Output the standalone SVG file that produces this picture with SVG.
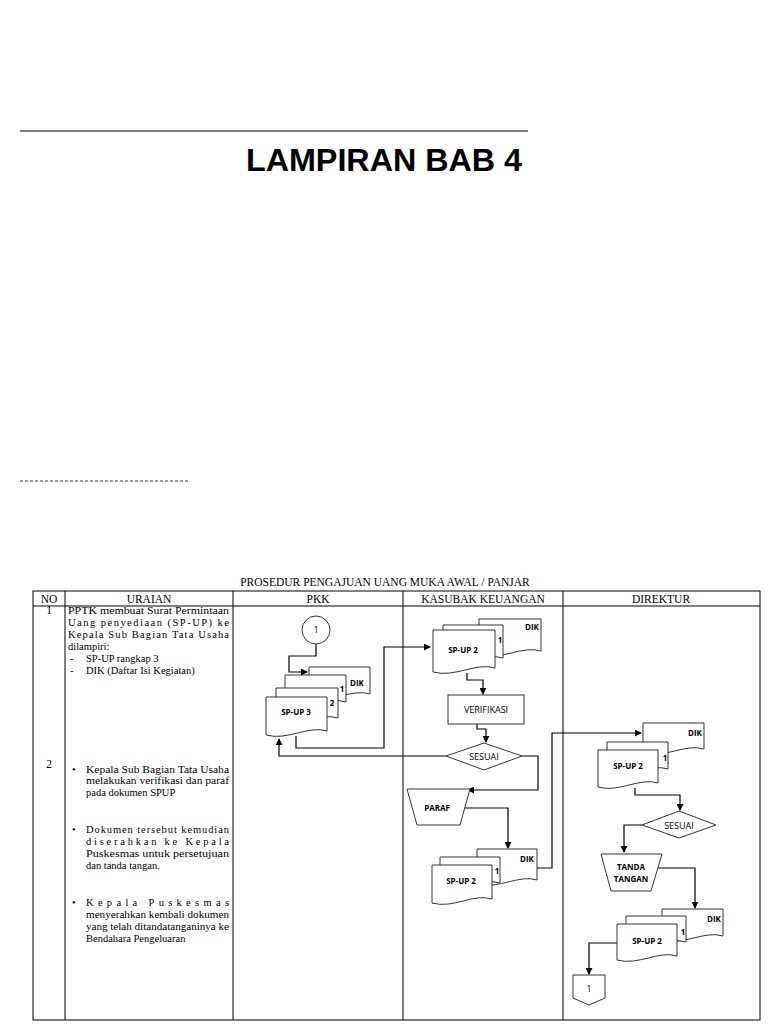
<svg xmlns="http://www.w3.org/2000/svg" width="768" height="1024" viewBox="0 0 768 1024">
<defs>
<marker id="ar" viewBox="0 0 8 8" refX="7" refY="4" markerWidth="7" markerHeight="7" orient="auto" markerUnits="userSpaceOnUse"><path d="M0 0L8 4L0 8Z" fill="#000"/></marker>
</defs>
<style>
.ser{font-family:"Liberation Serif",serif;font-size:10.5px;fill:#000}
.hd{font-family:"Liberation Serif",serif;font-size:11.5px;fill:#000;text-anchor:middle}
.lbl{font-family:"Open Sans","DejaVu Sans",sans-serif;font-size:8px;font-weight:bold;fill:#000;text-anchor:middle}
.lbn{font-family:"Open Sans","DejaVu Sans",sans-serif;font-size:9px;fill:#000;text-anchor:middle}
.shp{fill:#fff;stroke:#333;stroke-width:1}
.tb{fill:none;stroke:#000;stroke-width:1}
.cn{fill:none;stroke:#000;stroke-width:1.2;marker-end:url(#ar)}
</style>
<rect width="768" height="1024" fill="#fff"/>
<line x1="20" y1="131" x2="528" y2="131" stroke="#000" stroke-width="1"/>
<text x="246" y="171" font-family="Liberation Sans,Arial,sans-serif" font-size="31" font-weight="bold" textLength="276" lengthAdjust="spacingAndGlyphs">LAMPIRAN BAB 4</text>
<line x1="20" y1="481" x2="188" y2="481" stroke="#000" stroke-width="0.8" stroke-dasharray="3,2"/>
<text x="385" y="586" class="hd">PROSEDUR PENGAJUAN UANG MUKA AWAL / PANJAR</text>
<g id="table">
<rect x="33" y="591" width="727" height="429" class="tb"/>
<line x1="33" y1="606" x2="760" y2="606" class="tb"/>
<line x1="65" y1="591" x2="65" y2="1020" class="tb"/>
<line x1="233" y1="591" x2="233" y2="1020" class="tb"/>
<line x1="403" y1="591" x2="403" y2="1020" class="tb"/>
<line x1="563" y1="591" x2="563" y2="1020" class="tb"/>
<text x="49" y="603" class="hd">NO</text>
<text x="149" y="603" class="hd">URAIAN</text>
<text x="318" y="603" class="hd">PKK</text>
<text x="483" y="603" class="hd">KASUBAK KEUANGAN</text>
<text x="661" y="603" class="hd">DIREKTUR</text>
<text x="49" y="614" class="hd">1</text>
<text x="49" y="768" class="hd">2</text>
</g>
<g id="uraian" class="ser">
<text x="68" y="614" textLength="161" lengthAdjust="spacingAndGlyphs">PPTK membuat Surat Permintaan</text>
<text x="68" y="626" textLength="161" lengthAdjust="spacing">Uang penyediaan (SP-UP) ke</text>
<text x="68" y="638" textLength="161" lengthAdjust="spacing">Kepala Sub Bagian Tata Usaha</text>
<text x="68" y="650">dilampiri:</text>
<text x="70" y="662">-</text><text x="86" y="662">SP-UP rangkap 3</text>
<text x="70" y="674">-</text><text x="86" y="674">DIK (Daftar Isi Kegiatan)</text>
<text x="72" y="773">•</text>
<text x="86" y="773" textLength="143" lengthAdjust="spacingAndGlyphs">Kepala Sub Bagian Tata Usaha</text>
<text x="86" y="784" textLength="143" lengthAdjust="spacingAndGlyphs">melakukan verifikasi dan paraf</text>
<text x="86" y="796">pada dokumen SPUP</text>
<text x="72" y="833">•</text>
<text x="86" y="833" textLength="143" lengthAdjust="spacing">Dokumen tersebut kemudian</text>
<text x="86" y="845" textLength="143" lengthAdjust="spacing">diserahkan ke Kepala</text>
<text x="86" y="857" textLength="143" lengthAdjust="spacingAndGlyphs">Puskesmas untuk persetujuan</text>
<text x="86" y="869">dan tanda tangan.</text>
<text x="72" y="906">•</text>
<text x="86" y="906" textLength="143" lengthAdjust="spacing">Kepala Puskesmas</text>
<text x="86" y="918" textLength="143" lengthAdjust="spacingAndGlyphs">menyerahkan kembali dokumen</text>
<text x="86" y="930" textLength="143" lengthAdjust="spacingAndGlyphs">yang telah ditandatanganinya ke</text>
<text x="86" y="942">Bendahara Pengeluaran</text>
</g>
<g id="connectors">
<path d="M316 644V656H289V672H307" class="cn"/>
<path d="M296 736V748H384V647H430" class="cn"/>
<path d="M467 673V680H483V694" class="cn"/>
<path d="M477 724V729H486V742" class="cn"/>
<path d="M446 756H279V739" class="cn"/>
<path d="M522 756H538V790H468" class="cn"/>
<path d="M464 808H508V848" class="cn"/>
<path d="M537 868H552V733H641" class="cn"/>
<path d="M635 788V795H680V810" class="cn"/>
<path d="M642 825H624V852" class="cn"/>
<path d="M658 868H695V908" class="cn"/>
<path d="M619 943H589V974" class="cn"/>
</g>
<g id="start">
<circle cx="316" cy="630" r="14" class="shp"/>
<text x="316" y="633" class="lbn">1</text>
</g>
<g id="pkk-docs">
<path d="M309 667H370V694C352 688 330 704 309 698Z" class="shp"/>
<text x="357" y="686" class="lbl">DIK</text>
<path d="M285 675H346V702C328 696 306 712 285 706Z" class="shp"/>
<text x="342" y="692" class="lbl">1</text>
<path d="M276 688H338V718C319 712 298 728 276 722Z" class="shp"/>
<text x="332" y="706" class="lbl">2</text>
<path d="M266 697H327V731C309 725 287 741 266 735Z" class="shp"/>
<text x="296" y="715" class="lbl">SP-UP 3</text>
</g>
<g id="kas-docs1">
<path d="M479 619H541V651C522 645 501 661 479 655Z" class="shp"/>
<text x="532" y="630" class="lbl">DIK</text>
<path d="M443 625H503V658C485 652 464 668 443 662Z" class="shp"/>
<text x="500" y="643" class="lbl">1</text>
<path d="M433 630H495V668C476 662 455 678 433 672Z" class="shp"/>
<text x="463" y="653" class="lbl">SP-UP 2</text>
</g>
<g id="verifikasi">
<rect x="448" y="695" width="76" height="29" class="shp"/>
<text x="486" y="713" class="lbn">VERIFIKASI</text>
</g>
<g id="sesuai1">
<path d="M484 743L522 756L484 770L446 756Z" class="shp"/>
<text x="484" y="760" class="lbn">SESUAI</text>
</g>
<g id="paraf">
<path d="M407 789H470L460 825H417Z" class="shp"/>
<text x="437" y="811" class="lbl">PARAF</text>
</g>
<g id="kas-docs2">
<path d="M477 849H537V880C519 874 498 890 477 884Z" class="shp"/>
<text x="527" y="862" class="lbl">DIK</text>
<path d="M440 857H500V883C482 877 461 893 440 887Z" class="shp"/>
<text x="497" y="874" class="lbl">1</text>
<path d="M432 865H492V899C474 893 453 909 432 903Z" class="shp"/>
<text x="461" y="884" class="lbl">SP-UP 2</text>
</g>
<g id="dir-docs1">
<path d="M643 723H704V749C686 743 664 759 643 753Z" class="shp"/>
<text x="695" y="736" class="lbl">DIK</text>
<path d="M607 742H668V769C650 763 628 779 607 773Z" class="shp"/>
<text x="665" y="761" class="lbl">1</text>
<path d="M598 750H658V783C640 777 619 793 598 787Z" class="shp"/>
<text x="628" y="769" class="lbl">SP-UP 2</text>
</g>
<g id="sesuai2">
<path d="M679 811L716 825L679 838L642 825Z" class="shp"/>
<text x="679" y="829" class="lbn">SESUAI</text>
</g>
<g id="tanda">
<path d="M601 854H662L651 891H611Z" class="shp"/>
<text x="631" y="870" class="lbl">TANDA</text>
<text x="631" y="882" class="lbl">TANGAN</text>
</g>
<g id="dir-docs2">
<path d="M662 909H723V936C705 930 683 946 662 940Z" class="shp"/>
<text x="714" y="922" class="lbl">DIK</text>
<path d="M626 916H686V942C668 936 647 952 626 946Z" class="shp"/>
<text x="683" y="935" class="lbl">1</text>
<path d="M617 924H677V956C659 950 638 966 617 960Z" class="shp"/>
<text x="647" y="944" class="lbl">SP-UP 2</text>
</g>
<g id="offpage">
<path d="M573 975H605V998L589 1005L573 998Z" class="shp"/>
<text x="589" y="992" class="lbn">1</text>
</g>
</svg>
